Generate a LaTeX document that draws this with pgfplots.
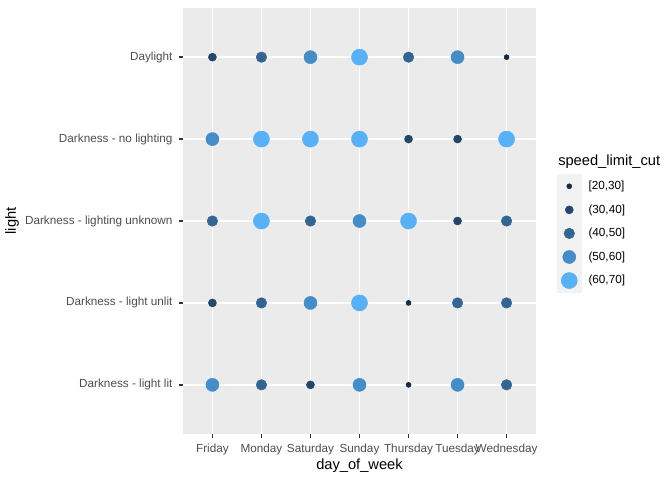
\documentclass[border=0pt]{standalone}
\usepackage{fontspec}
\setmainfont{Liberation Sans}
\usepackage{pgfplots}
\pgfplotsset{compat=1.18}

\definecolor{panel}{HTML}{EBEBEB}
\definecolor{keybg}{HTML}{F2F2F2}
\definecolor{gray30}{HTML}{4D4D4D}
\definecolor{gray20}{HTML}{333333}
\definecolor{c1}{HTML}{132B43}
\definecolor{c2}{HTML}{22476A}
\definecolor{c3}{HTML}{336592}
\definecolor{c4}{HTML}{448DC8}
\definecolor{c5}{HTML}{56B1F7}

% x: 0 Friday .. 6 Wednesday ; y: 0 light lit .. 4 Daylight
\begin{document}
\begin{tikzpicture}
\path[use as bounding box] (-137.25pt,-34.5pt) rectangle (366.75pt,325.5pt);
\begin{axis}[
  at={(0,0)}, anchor=south west,
  scale only axis, width=264.75pt, height=319.5pt,
  xmin=-0.6, xmax=6.6, ymin=-0.6, ymax=4.6,
  axis background/.style={fill=panel},
  axis line style={draw=none},
  xtick={0,...,6}, ytick={0,...,4},
  xticklabels={Friday,Monday,Saturday,Sunday,Thursday,Tuesday,Wednesday},
  yticklabels={Darkness - light lit,Darkness - light unlit,Darkness - lighting unknown,Darkness - no lighting,Daylight},
  tick align=outside, major tick length=2.75pt,
  tick style={gray20, line width=1.07pt},
  xtick pos=bottom, ytick pos=left,
  grid=major, major grid style={white, line width=1.1pt},
  ticklabel style={font=\fontsize{8.8}{10}\selectfont, text=gray30, inner sep=0pt},
  xticklabel style={anchor=north, yshift=-4.6pt},
  yticklabel style={anchor=east, xshift=-4.95pt},
  xlabel={day\_of\_week}, ylabel={light},
  label style={font=\fontsize{11}{13}\selectfont},
  xlabel style={at={(axis description cs:0.5,-0.0745)}, anchor=center},
  ylabel style={at={(axis description cs:-0.4844,0.5)}, anchor=center},
  legend style={at={(1.0609,0.6092)}, anchor=north west, draw=none, fill=none,
    inner sep=0pt, outer sep=0pt, row sep=0pt, column sep=0pt,
    font=\fontsize{8.8}{10}\selectfont,
    nodes={inner sep=0pt},
    /tikz/every odd column/.append style={column sep=5.6pt}},
  legend cell align=left,
  clip=false,
]
\addplot[only marks, mark=*, c1, mark size=1.875pt,
  legend image code/.code={\fill[keybg] (-8.64pt,-8.64pt) rectangle (8.64pt,8.64pt); \fill[c1] (0,0) circle (1.875pt);}]
  coordinates {(6,4) (4,1) (4,0)};
\addlegendentry{\relax[20,30]}
\addplot[only marks, mark=*, c2, mark size=3pt,
  legend image code/.code={\fill[keybg] (-8.64pt,-8.64pt) rectangle (8.64pt,8.64pt); \fill[c2] (0,0) circle (3pt);}]
  coordinates {(0,4) (4,3) (5,3) (5,2) (0,1) (2,0)};
\addlegendentry{(30,40]}
\addplot[only marks, mark=*, c3, mark size=3.94pt,
  legend image code/.code={\fill[keybg] (-8.64pt,-8.64pt) rectangle (8.64pt,8.64pt); \fill[c3] (0,0) circle (3.94pt);}]
  coordinates {(1,4) (4,4) (0,2) (2,2) (6,2) (1,1) (5,1) (6,1) (1,0) (6,0)};
\addlegendentry{(40,50]}
\addplot[only marks, mark=*, c4, mark size=4.875pt,
  legend image code/.code={\fill[keybg] (-8.64pt,-8.64pt) rectangle (8.64pt,8.64pt); \fill[c4] (0,0) circle (4.875pt);}]
  coordinates {(2,4) (5,4) (0,3) (3,2) (2,1) (0,0) (3,0) (5,0)};
\addlegendentry{(50,60]}
\addplot[only marks, mark=*, c5, mark size=6pt,
  legend image code/.code={\fill[keybg] (-8.64pt,-8.64pt) rectangle (8.64pt,8.64pt); \fill[c5] (0,0) circle (6pt);}]
  coordinates {(3,4) (1,3) (2,3) (3,3) (6,3) (1,2) (4,2) (3,1)};
\addlegendentry{(60,70]}
\node[anchor=west, inner sep=0pt, font=\fontsize{11}{13}\selectfont]
  at (axis description cs:1.0623,0.6385) {speed\_limit\_cut};
\end{axis}
\end{tikzpicture}
\end{document}
